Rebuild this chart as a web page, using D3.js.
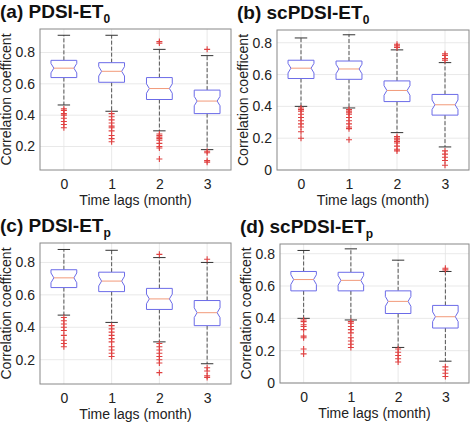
<!DOCTYPE html>
<html><head><meta charset="utf-8">
<script src="https://cdn.jsdelivr.net/npm/d3@7"></script>
<style>body{margin:0;background:#fff}</style></head>
<body><svg id="c" width="474" height="422"></svg>
<script>
const lags = [0, 1, 2, 3];
const titles = [["(a) PDSI-ET", "0"], ["(b) scPDSI-ET", "0"], ["(c) PDSI-ET", "p"], ["(d) scPDSI-ET", "p"]];
const yDomains = [[0.05, 0.95], [0, 0.88], [0.05, 0.92], [0, 0.86]];
const yTicks = [[0.2, 0.4, 0.6, 0.8], [0, 0.2, 0.4, 0.6, 0.8], [0.2, 0.4, 0.6, 0.8], [0, 0.2, 0.4, 0.6, 0.8]];
// [whiskerLow, q1, median, q3, whiskerHigh]
const statsA = [[0.465,0.64,0.70,0.75,0.91],[0.425,0.61,0.68,0.735,0.91],[0.30,0.50,0.57,0.64,0.82],[0.18,0.41,0.49,0.56,0.78]];
const statsB = [[0.40,0.575,0.64,0.69,0.83],[0.39,0.57,0.635,0.685,0.85],[0.235,0.43,0.50,0.56,0.755],[0.145,0.345,0.41,0.475,0.675]];
const statsC = [[0.475,0.645,0.705,0.755,0.88],[0.43,0.62,0.685,0.74,0.875],[0.31,0.51,0.575,0.64,0.83],[0.175,0.41,0.49,0.565,0.80]];
const statsD = [[0.40,0.57,0.64,0.69,0.82],[0.39,0.57,0.635,0.685,0.83],[0.22,0.43,0.505,0.57,0.76],[0.135,0.34,0.41,0.48,0.69]];
const outA = [[.44,.43,.41,.40,.38,.36,.34,.32],[.41,.39,.37,.35,.33,.32,.30,.27,.25,.23],[.87,.86,.28,.27,.26,.25,.24,.22,.20,.19,.12],[.82,.17,.16,.11,.10]];
const outB = [[.39,.38,.37,.35,.33,.31,.29,.27,.24,.20],[.38,.37,.36,.35,.33,.31,.29,.27,.26,.19],[.79,.78,.77,.21,.20,.19,.18,.17,.15,.13,.12],[.73,.72,.70,.69,.12,.10,.08,.06,.03]];
const outC = [[.46,.44,.42,.40,.38,.35,.32,.30,.28],[.41,.39,.37,.35,.33,.31,.28,.26,.24,.22],[.85,.30,.28,.26,.24,.22,.20,.18,.12],[.82,.15,.13,.10,.09]];
const outD = [[.39,.38,.36,.35,.33,.29,.28,.21,.18],[.38,.37,.35,.33,.31,.28,.26,.24,.22],[.21,.19,.17,.15,.13],[.71,.70,.10,.08,.06,.04]];
const allStats = [statsA, statsB, statsC, statsD];
const allOut = [outA, outB, outC, outD];

const svg = d3.select("#c");
const panels = [{x0:40,x1:231,y0:29,y1:170},{x0:277,x1:469,y0:30,y1:170},{x0:40,x1:231,y0:243,y1:384},{x0:280,x1:469,y0:244,y1:383}];
const font = "Liberation Sans, Arial, sans-serif";

panels.forEach((p, i) => {
  const g = svg.append("g");
  const x = d3.scaleLinear().domain([-0.5, 3.5]).range([p.x0, p.x1]);
  const y = d3.scaleLinear().domain(yDomains[i]).range([p.y1, p.y0]);
  g.selectAll(".gy").data(yTicks[i]).join("line").attr("x1", p.x0).attr("x2", p.x1)
    .attr("y1", d => y(d)).attr("y2", d => y(d)).attr("stroke", "#e3e3e3").attr("stroke-width", 0.8);
  g.selectAll(".gx").data(lags).join("line").attr("y1", p.y0).attr("y2", p.y1)
    .attr("x1", d => x(d)).attr("x2", d => x(d)).attr("stroke", "#e3e3e3").attr("stroke-width", 0.8);
  g.append("rect").attr("x", p.x0).attr("y", p.y0).attr("width", p.x1 - p.x0).attr("height", p.y1 - p.y0)
    .attr("fill", "none").attr("stroke", "#888").attr("stroke-width", 1);
  const ya = d3.axisLeft(y).tickValues(yTicks[i]).tickSize(0).tickPadding(5).tickFormat(d => d === 0 ? "0" : d3.format(".1f")(d));
  const ay = g.append("g").attr("transform", `translate(${p.x0},0)`).call(ya);
  const xa = d3.axisBottom(x).tickValues(lags).tickSize(0).tickPadding(9).tickFormat(d3.format("d"));
  const ax = g.append("g").attr("transform", `translate(0,${p.y1})`).call(xa);
  [ay, ax].forEach(a => { a.select(".domain").remove(); a.selectAll("text").attr("font-family", font).attr("font-size", 14).attr("fill", "#222"); });
  g.append("text").attr("x", (p.x0 + p.x1) / 2).attr("y", p.y1 + 35).attr("text-anchor", "middle")
    .attr("font-family", font).attr("font-size", 14).attr("fill", "#222").text("Time lags (month)");
  g.append("text").attr("transform", `translate(${p.x0 - 29},${(p.y0 + p.y1) / 2}) rotate(-90)`).attr("text-anchor", "middle")
    .attr("font-family", font).attr("font-size", 14).attr("fill", "#222").text("Correlation coefficent");
  const t = g.append("text").attr("x", p.x0 - 40).attr("y", p.y0 - 11)
    .attr("font-family", font).attr("font-size", 19).attr("font-weight", "bold").attr("fill", "#111");
  t.append("tspan").text(titles[i][0]);
  t.append("tspan").attr("font-size", 12).attr("dy", 5).text(titles[i][1]);

  const hw = 0.27, nw = 0.21, nd = 0.03;
  allStats[i].forEach((s, k) => {
    const [lo, q1, md, q3, hi] = s;
    const cx = k;
    g.append("line").attr("x1", x(cx)).attr("x2", x(cx)).attr("y1", y(q3)).attr("y2", y(hi)).attr("stroke", "#555").attr("stroke-dasharray", "4,2");
    g.append("line").attr("x1", x(cx)).attr("x2", x(cx)).attr("y1", y(q1)).attr("y2", y(lo)).attr("stroke", "#555").attr("stroke-dasharray", "4,2");
    [lo, hi].forEach(v => g.append("line").attr("x1", x(cx - 0.13)).attr("x2", x(cx + 0.13)).attr("y1", y(v)).attr("y2", y(v)).attr("stroke", "#333"));
    const pts = [[cx - hw, q3], [cx + hw, q3], [cx + hw, md + nd], [cx + nw, md], [cx + hw, md - nd], [cx + hw, q1], [cx - hw, q1], [cx - hw, md - nd], [cx - nw, md], [cx - hw, md + nd]];
    g.append("polygon").attr("points", pts.map(q => [x(q[0]), y(q[1])].join(",")).join(" "))
      .attr("fill", "#fff").attr("stroke", "#6b6be8").attr("stroke-width", 1);
    g.append("line").attr("x1", x(cx - nw)).attr("x2", x(cx + nw)).attr("y1", y(md)).attr("y2", y(md)).attr("stroke", "#f29a7a").attr("stroke-width", 1);
    allOut[i][k].forEach(v => {
      g.append("path").attr("d", `M${x(cx) - 3},${y(v)}h6M${x(cx)},${y(v) - 3}v6`).attr("stroke", "#e04040").attr("stroke-width", 1.1);
    });
  });
});
</script></body></html>
